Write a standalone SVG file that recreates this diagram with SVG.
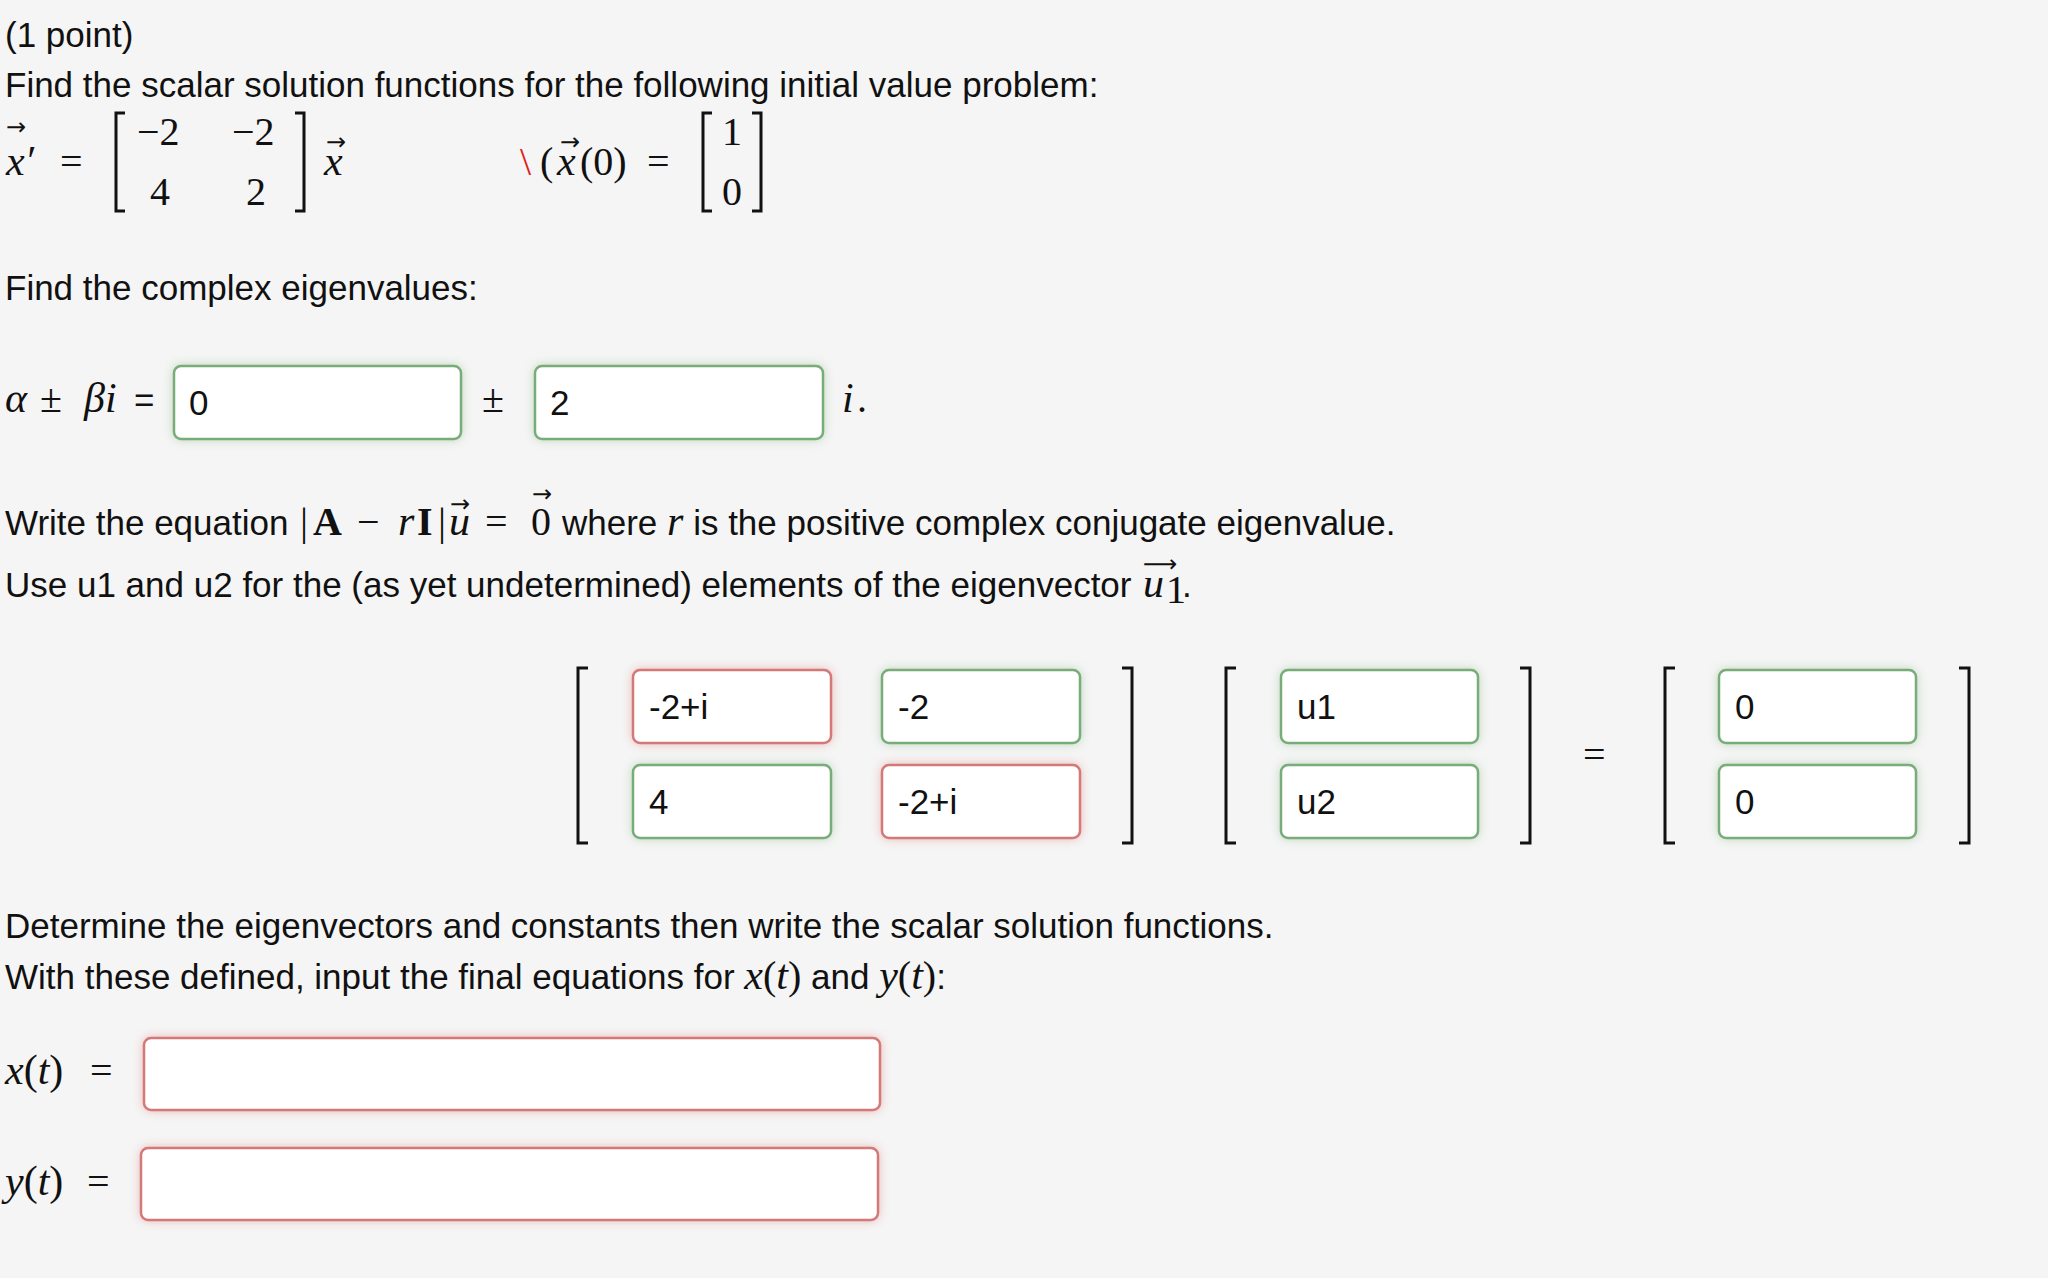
<svg xmlns="http://www.w3.org/2000/svg" width="2048" height="1278" viewBox="0 0 2048 1278">
<defs>
<filter id="gg" x="-20%" y="-40%" width="140%" height="180%"><feDropShadow dx="0" dy="0" stdDeviation="5" flood-color="#5a9a5a" flood-opacity="0.35"/></filter>
<filter id="rg" x="-20%" y="-40%" width="140%" height="180%"><feDropShadow dx="0" dy="0" stdDeviation="5" flood-color="#d05050" flood-opacity="0.35"/></filter>
</defs>
<style>
.t{font-family:"Liberation Sans",Arial,sans-serif;font-size:35px;fill:#111}
.m{font-family:"Liberation Serif","Times New Roman",serif;font-size:40px;fill:#111}
.mi{font-family:"Liberation Serif","Times New Roman",serif;font-size:42px;font-style:italic;fill:#111}
.ar{font-family:"DejaVu Sans",sans-serif;font-size:24px;fill:#111}
.g{fill:#fff;stroke:#78ac78;stroke-width:2.5;filter:url(#gg)}
.r{fill:#fff;stroke:#d47878;stroke-width:2.5;filter:url(#rg)}
.br{fill:none;stroke:#111;stroke-width:3}
</style>
<rect width="2048" height="1278" fill="#f5f5f5"/>
<text class="t" x="5" y="47">(1 point)</text>
<text class="t" x="5" y="97">Find the scalar solution functions for the following initial value problem:</text>
<g id="eq1">
<text class="ar" x="6" y="135" font-size="34">→</text>
<text class="mi" x="6" y="175">x′</text>
<text class="m" x="60" y="175">=</text>
<path class="br" d="M125,113 H116 V211 H125 M295,113 H304 V211 H295"/>
<text class="m" x="137" y="145">−2</text><text class="m" x="232" y="145">−2</text>
<text class="m" x="150" y="205">4</text><text class="m" x="246" y="205">2</text>
<text class="ar" x="326" y="150">→</text>
<text class="mi" x="324" y="175">x</text>
<text class="m" x="520" y="175" style="fill:#e02020">\</text>
<text class="m" x="540" y="175">(</text>
<text class="ar" x="560" y="150">→</text>
<text class="mi" x="557" y="175">x</text>
<text class="m" x="580" y="175">(0)</text>
<text class="m" x="647" y="175">=</text>
<path class="br" d="M712,113 H703 V211 H712 M752,113 H761 V211 H752"/>
<text class="m" x="722" y="145">1</text><text class="m" x="722" y="205">0</text>
</g>
<text class="t" x="5" y="300">Find the complex eigenvalues:</text>
<g id="eig">
<text class="mi" x="5" y="412">α</text>
<text class="m" x="40" y="412">±</text>
<text class="mi" x="84" y="412">βi</text>
<text class="t" x="134" y="412">=</text>
<rect class="g" x="174" y="366" width="287" height="73" rx="7"/>
<text class="t" x="189" y="415">0</text>
<text class="m" x="482" y="412">±</text>
<rect class="g" x="535" y="366" width="288" height="73" rx="7"/>
<text class="t" x="550" y="415">2</text>
<text class="mi" x="842" y="412">i</text><text class="m" x="857" y="412">.</text>
</g>
<g id="line1">
<text class="t" x="5" y="535">Write the equation</text>
<text class="m" x="300" y="535">|</text>
<text class="m" x="313" y="535" font-weight="bold">A</text>
<text class="m" x="357" y="535">−</text>
<text class="mi" x="398" y="535">r</text>
<text class="m" x="417" y="535" font-weight="bold">I</text>
<text class="m" x="438" y="535">|</text>
<text class="ar" x="450" y="512">→</text>
<text class="mi" x="449" y="535">u</text>
<text class="m" x="485" y="535">=</text>
<text class="ar" x="532" y="502">→</text>
<text class="m" x="531" y="535">0</text>
<text class="t" x="562" y="535">where <tspan class="mi">r</tspan> is the positive complex conjugate eigenvalue.</text>
<text class="t" x="5" y="597">Use u1 and u2 for the (as yet undetermined) elements of the eigenvector</text>
<text class="ar" x="1143" y="572" font-size="34">⟶</text>
<text class="mi" x="1143" y="597">u</text>
<text class="m" x="1166" y="603" font-size="30">1</text>
<text class="t" x="1182" y="597">.</text>
</g>
<g id="matrix">
<path class="br" d="M588,668 H578 V843 H588 M1122,668 H1132 V843 H1122"/>
<path class="br" d="M1236,668 H1226 V843 H1236 M1520,668 H1530 V843 H1520"/>
<path class="br" d="M1675,668 H1665 V843 H1675 M1959,668 H1969 V843 H1959"/>
<text class="m" x="1583" y="768">=</text>
<rect class="r" x="633" y="670" width="198" height="73" rx="7"/><text class="t" x="649" y="719">-2+i</text>
<rect class="g" x="882" y="670" width="198" height="73" rx="7"/><text class="t" x="898" y="719">-2</text>
<rect class="g" x="633" y="765" width="198" height="73" rx="7"/><text class="t" x="649" y="814">4</text>
<rect class="r" x="882" y="765" width="198" height="73" rx="7"/><text class="t" x="898" y="814">-2+i</text>
<rect class="g" x="1281" y="670" width="197" height="73" rx="7"/><text class="t" x="1297" y="719">u1</text>
<rect class="g" x="1281" y="765" width="197" height="73" rx="7"/><text class="t" x="1297" y="814">u2</text>
<rect class="g" x="1719" y="670" width="197" height="73" rx="7"/><text class="t" x="1735" y="719">0</text>
<rect class="g" x="1719" y="765" width="197" height="73" rx="7"/><text class="t" x="1735" y="814">0</text>
</g>
<text class="t" x="5" y="938">Determine the eigenvectors and constants then write the scalar solution functions.</text>
<text class="t" x="5" y="989">With these defined, input the final equations for <tspan class="mi">x</tspan><tspan class="m">(</tspan><tspan class="mi">t</tspan><tspan class="m">)</tspan> and <tspan class="mi">y</tspan><tspan class="m">(</tspan><tspan class="mi">t</tspan><tspan class="m">)</tspan>:</text>
<g id="answers">
<text class="mi" x="5" y="1084">x<tspan font-style="normal">(</tspan>t<tspan font-style="normal">)</tspan></text>
<text class="m" x="90" y="1084">=</text>
<rect class="r" x="144" y="1038" width="736" height="72" rx="7"/>
<text class="mi" x="5" y="1195">y<tspan font-style="normal">(</tspan>t<tspan font-style="normal">)</tspan></text>
<text class="m" x="87" y="1195">=</text>
<rect class="r" x="141" y="1148" width="737" height="72" rx="7"/>
</g>
</svg>
